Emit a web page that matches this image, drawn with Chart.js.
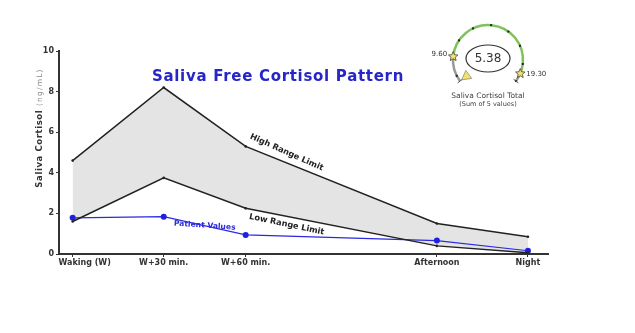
<!DOCTYPE html>
<html>
<head>
<meta charset="utf-8">
<script src="https://cdn.jsdelivr.net/npm/chart.js@4"></script>
<style>
    html, body { margin: 0; padding: 0; background: #fff; }
    #wrap { width: 635px; height: 333px; }
</style>
</head>
<body>
<div id="wrap"><canvas id="cortisolChart" width="635" height="333"></canvas></div>
<script>
// Chart data
const categories = ["Waking (W)", "W+30 min.", "W+60 min.", "Afternoon", "Night"];
const timePositions = [0, 1, 1.9, 4, 5];
const highLimit = [4.6, 8.2, 5.3, 1.5, 0.85];
const lowLimit = [1.6, 3.75, 2.25, 0.4, 0.06];
const patientValues = [1.78, 1.84, 0.94, 0.66, 0.16];
const yTicks = [0, 2, 4, 6, 8, 10];

// Gauge data
const gaugeRange = [7.5, 20];
const gaugeLimits = [9.6, 19.3];

const FONT = "'DejaVu Sans', sans-serif";
const toPoints = (vals) => vals.map((v, i) => ({ x: timePositions[i], y: v }));

// Draws the title, line labels, y title and the total gauge
const overlayPlugin = {
    id: "overlay",
    afterDraw(chart) {
        const ctx = chart.ctx;
        const xs = chart.scales.x;
        const ys = chart.scales.y;

        ctx.save();
        // Title
        ctx.fillStyle = "#2626c8";
        ctx.font = "bold 15px " + FONT;
        ctx.letterSpacing = "0.7px";
        ctx.textAlign = "center";
        ctx.textBaseline = "middle";
        ctx.fillText("Saliva Free Cortisol Pattern", 278, 77);
        ctx.letterSpacing = "0px";

        // Line labels
        function rotatedText(txt, xv, yv, angle, color, font) {
            ctx.save();
            ctx.translate(xs.getPixelForValue(xv), ys.getPixelForValue(yv));
            ctx.rotate(angle * Math.PI / 180);
            ctx.fillStyle = color;
            ctx.font = font;
            ctx.textAlign = "center";
            ctx.textBaseline = "middle";
            ctx.fillText(txt, 0, 0);
            ctx.restore();
        }
        rotatedText("High Range Limit", 2.35, 5.0, 24, "#222", "bold 8.2px " + FONT);
        rotatedText("Low Range Limit", 2.35, 1.45, 12, "#222", "bold 8.2px " + FONT);
        rotatedText("Patient Values", 1.45, 1.4, 4, "#2a2ad8", "bold 7.6px " + FONT);

        // Y axis title
        ctx.save();
        ctx.translate(40, 128);
        ctx.rotate(-Math.PI / 2);
        ctx.textBaseline = "middle";
        const part1 = "Saliva Cortisol ";
        ctx.font = "7.5px " + FONT;
        ctx.letterSpacing = "1.2px";
        const w2 = ctx.measureText("(ng/mL)").width;
        ctx.font = "bold 8.5px " + FONT;
        ctx.letterSpacing = "0.6px";
        const w1 = ctx.measureText(part1).width;
        const start = -(w1 + w2) / 2;
        ctx.textAlign = "left";
        ctx.fillStyle = "#333";
        ctx.fillText(part1, start, 0);
        ctx.font = "7.5px " + FONT;
        ctx.letterSpacing = "1.2px";
        ctx.fillStyle = "#888";
        ctx.fillText("(ng/mL)", start + w1, 0);
        ctx.letterSpacing = "0px";
        ctx.restore();

        // Gauge
        const cx = 488, cy = 60, r = 35;
        const a0 = 143 * Math.PI / 180;
        const sweep = 254 * Math.PI / 180;
        const angleFor = (v) => {
            const f = Math.max(0, Math.min(1, (v - gaugeRange[0]) / (gaugeRange[1] - gaugeRange[0])));
            return a0 + f * sweep;
        };
        const total = patientValues.reduce((s, v) => s + v, 0);

        ctx.lineWidth = 2.5;
        ctx.strokeStyle = "#999";
        ctx.beginPath();
        ctx.arc(cx, cy, r, a0, angleFor(gaugeLimits[0]));
        ctx.stroke();
        ctx.beginPath();
        ctx.arc(cx, cy, r, angleFor(gaugeLimits[1]), a0 + sweep);
        ctx.stroke();
        ctx.strokeStyle = "#7fc25a";
        ctx.beginPath();
        ctx.arc(cx, cy, r, angleFor(gaugeLimits[0]), angleFor(gaugeLimits[1]));
        ctx.stroke();

        // tick dots
        ctx.fillStyle = "#222";
        for (let v = 8; v <= 20; v += 1.5) {
            const a = angleFor(v);
            const px = cx + Math.cos(a) * r, py = cy + Math.sin(a) * r;
            ctx.fillRect(px - 1, py - 1, 2, 2);
        }
        // end ticks
        ctx.strokeStyle = "#555";
        ctx.lineWidth = 1;
        [a0, a0 + sweep].forEach(a => {
            ctx.beginPath();
            ctx.moveTo(cx + Math.cos(a) * (r - 3), cy + Math.sin(a) * (r - 3));
            ctx.lineTo(cx + Math.cos(a) * (r + 3), cy + Math.sin(a) * (r + 3));
            ctx.stroke();
        });

        // stars at limits
        function star(px, py, size) {
            ctx.beginPath();
            for (let i = 0; i < 10; i++) {
                const rr = i % 2 === 0 ? size : size * 0.45;
                const a = -Math.PI / 2 + i * Math.PI / 5;
                const sx = px + Math.cos(a) * rr, sy = py + Math.sin(a) * rr;
                if (i === 0) ctx.moveTo(sx, sy); else ctx.lineTo(sx, sy);
            }
            ctx.closePath();
            ctx.fillStyle = "#f4e06a";
            ctx.fill();
            ctx.strokeStyle = "#444";
            ctx.lineWidth = 0.8;
            ctx.stroke();
        }
        ctx.font = "7px " + FONT;
        ctx.textBaseline = "middle";
        gaugeLimits.forEach((v, i) => {
            const a = angleFor(v);
            const px = cx + Math.cos(a) * r, py = cy + Math.sin(a) * r;
            star(px, py, 5);
            ctx.fillStyle = "#333";
            if (i === 0) {
                ctx.textAlign = "right";
                ctx.fillText(v.toFixed(2), px - 6, py - 2);
            } else {
                ctx.textAlign = "left";
                ctx.fillText(v.toFixed(2), px + 6, py + 1);
            }
        });

        // pointer triangle
        const ap = angleFor(total);
        const tx = cx + Math.cos(ap) * (r - 7), ty = cy + Math.sin(ap) * (r - 7);
        ctx.save();
        ctx.translate(tx, ty);
        ctx.rotate(ap);
        ctx.beginPath();
        ctx.moveTo(5, 0);
        ctx.lineTo(-4, -5);
        ctx.lineTo(-4, 5);
        ctx.closePath();
        ctx.fillStyle = "#f2e36e";
        ctx.fill();
        ctx.strokeStyle = "#777";
        ctx.lineWidth = 0.6;
        ctx.stroke();
        ctx.restore();

        // inner value ellipse
        ctx.beginPath();
        ctx.ellipse(cx, cy - 1.5, 22, 13.5, 0, 0, Math.PI * 2);
        ctx.fillStyle = "#fff";
        ctx.fill();
        ctx.strokeStyle = "#333";
        ctx.lineWidth = 1.2;
        ctx.stroke();
        ctx.fillStyle = "#333";
        ctx.textAlign = "center";
        ctx.font = "12px " + FONT;
        ctx.fillText(total.toFixed(2), cx, cy - 1.5);

        ctx.font = "7.5px " + FONT;
        ctx.fillStyle = "#444";
        ctx.fillText("Saliva Cortisol Total", cx, 96);
        ctx.font = "6.5px " + FONT;
        ctx.fillText("(Sum of 5 values)", cx, 104);

        ctx.restore();
    }
};

new Chart(document.getElementById("cortisolChart"), {
    type: "line",
    data: {
        datasets: [
            {
                label: "High Range Limit",
                data: toPoints(highLimit),
                borderColor: "#222",
                borderWidth: 1.5,
                backgroundColor: "#e4e4e4",
                pointRadius: 1.3,
                pointBackgroundColor: "#222",
                pointBorderWidth: 0,
                fill: "+1",
                tension: 0,
                clip: false
            },
            {
                label: "Low Range Limit",
                data: toPoints(lowLimit),
                borderColor: "#222",
                borderWidth: 1.5,
                pointRadius: 1.3,
                pointBackgroundColor: "#222",
                pointBorderWidth: 0,
                fill: false,
                tension: 0,
                clip: false
            },
            {
                label: "Patient Values",
                data: toPoints(patientValues),
                borderColor: "#2a2ae0",
                borderWidth: 1.2,
                pointRadius: 3,
                pointBackgroundColor: "#2020e0",
                pointBorderColor: "#2020e0",
                pointBorderWidth: 0,
                fill: false,
                tension: 0,
                clip: false
            }
        ]
    },
    options: {
        responsive: false,
        animation: false,
        layout: { padding: { left: 0, top: 51, right: 87, bottom: 0 } },
        plugins: {
            legend: { display: false },
            tooltip: { enabled: false },
            filler: { drawTime: "beforeDatasetsDraw" }
        },
        scales: {
            x: {
                type: "linear",
                min: -0.15,
                max: 5.22,
                afterBuildTicks: (scale) => { scale.ticks = timePositions.map(v => ({ value: v })); },
                afterFit: (scale) => { scale.height = 79; },
                ticks: {
                    autoSkip: false,
                    maxRotation: 0,
                    padding: 1,
                    color: "#333",
                    font: { family: FONT, size: 8, weight: "bold" },
                    // first label sits a little right of its tick in the original
                    callback: (v) => {
                        const i = timePositions.indexOf(v);
                        return i === 0 ? "\u2002\u2002\u2002\u2002\u2002\u2002" + categories[i] : categories[i];
                    }
                },
                grid: { drawOnChartArea: false, tickLength: 3, color: "#333" },
                border: { color: "#333", width: 2 }
            },
            y: {
                min: 0,
                max: 10,
                afterBuildTicks: (scale) => { scale.ticks = yTicks.map(v => ({ value: v })); },
                afterFit: (scale) => { scale.width = 59; },
                ticks: {
                    padding: 2,
                    color: "#333",
                    font: { family: FONT, size: 8, weight: "bold" }
                },
                grid: { drawOnChartArea: false, tickLength: 3, color: "#333" },
                border: { color: "#333", width: 2 }
            }
        }
    },
    plugins: [overlayPlugin]
});
</script>
</body>
</html>
